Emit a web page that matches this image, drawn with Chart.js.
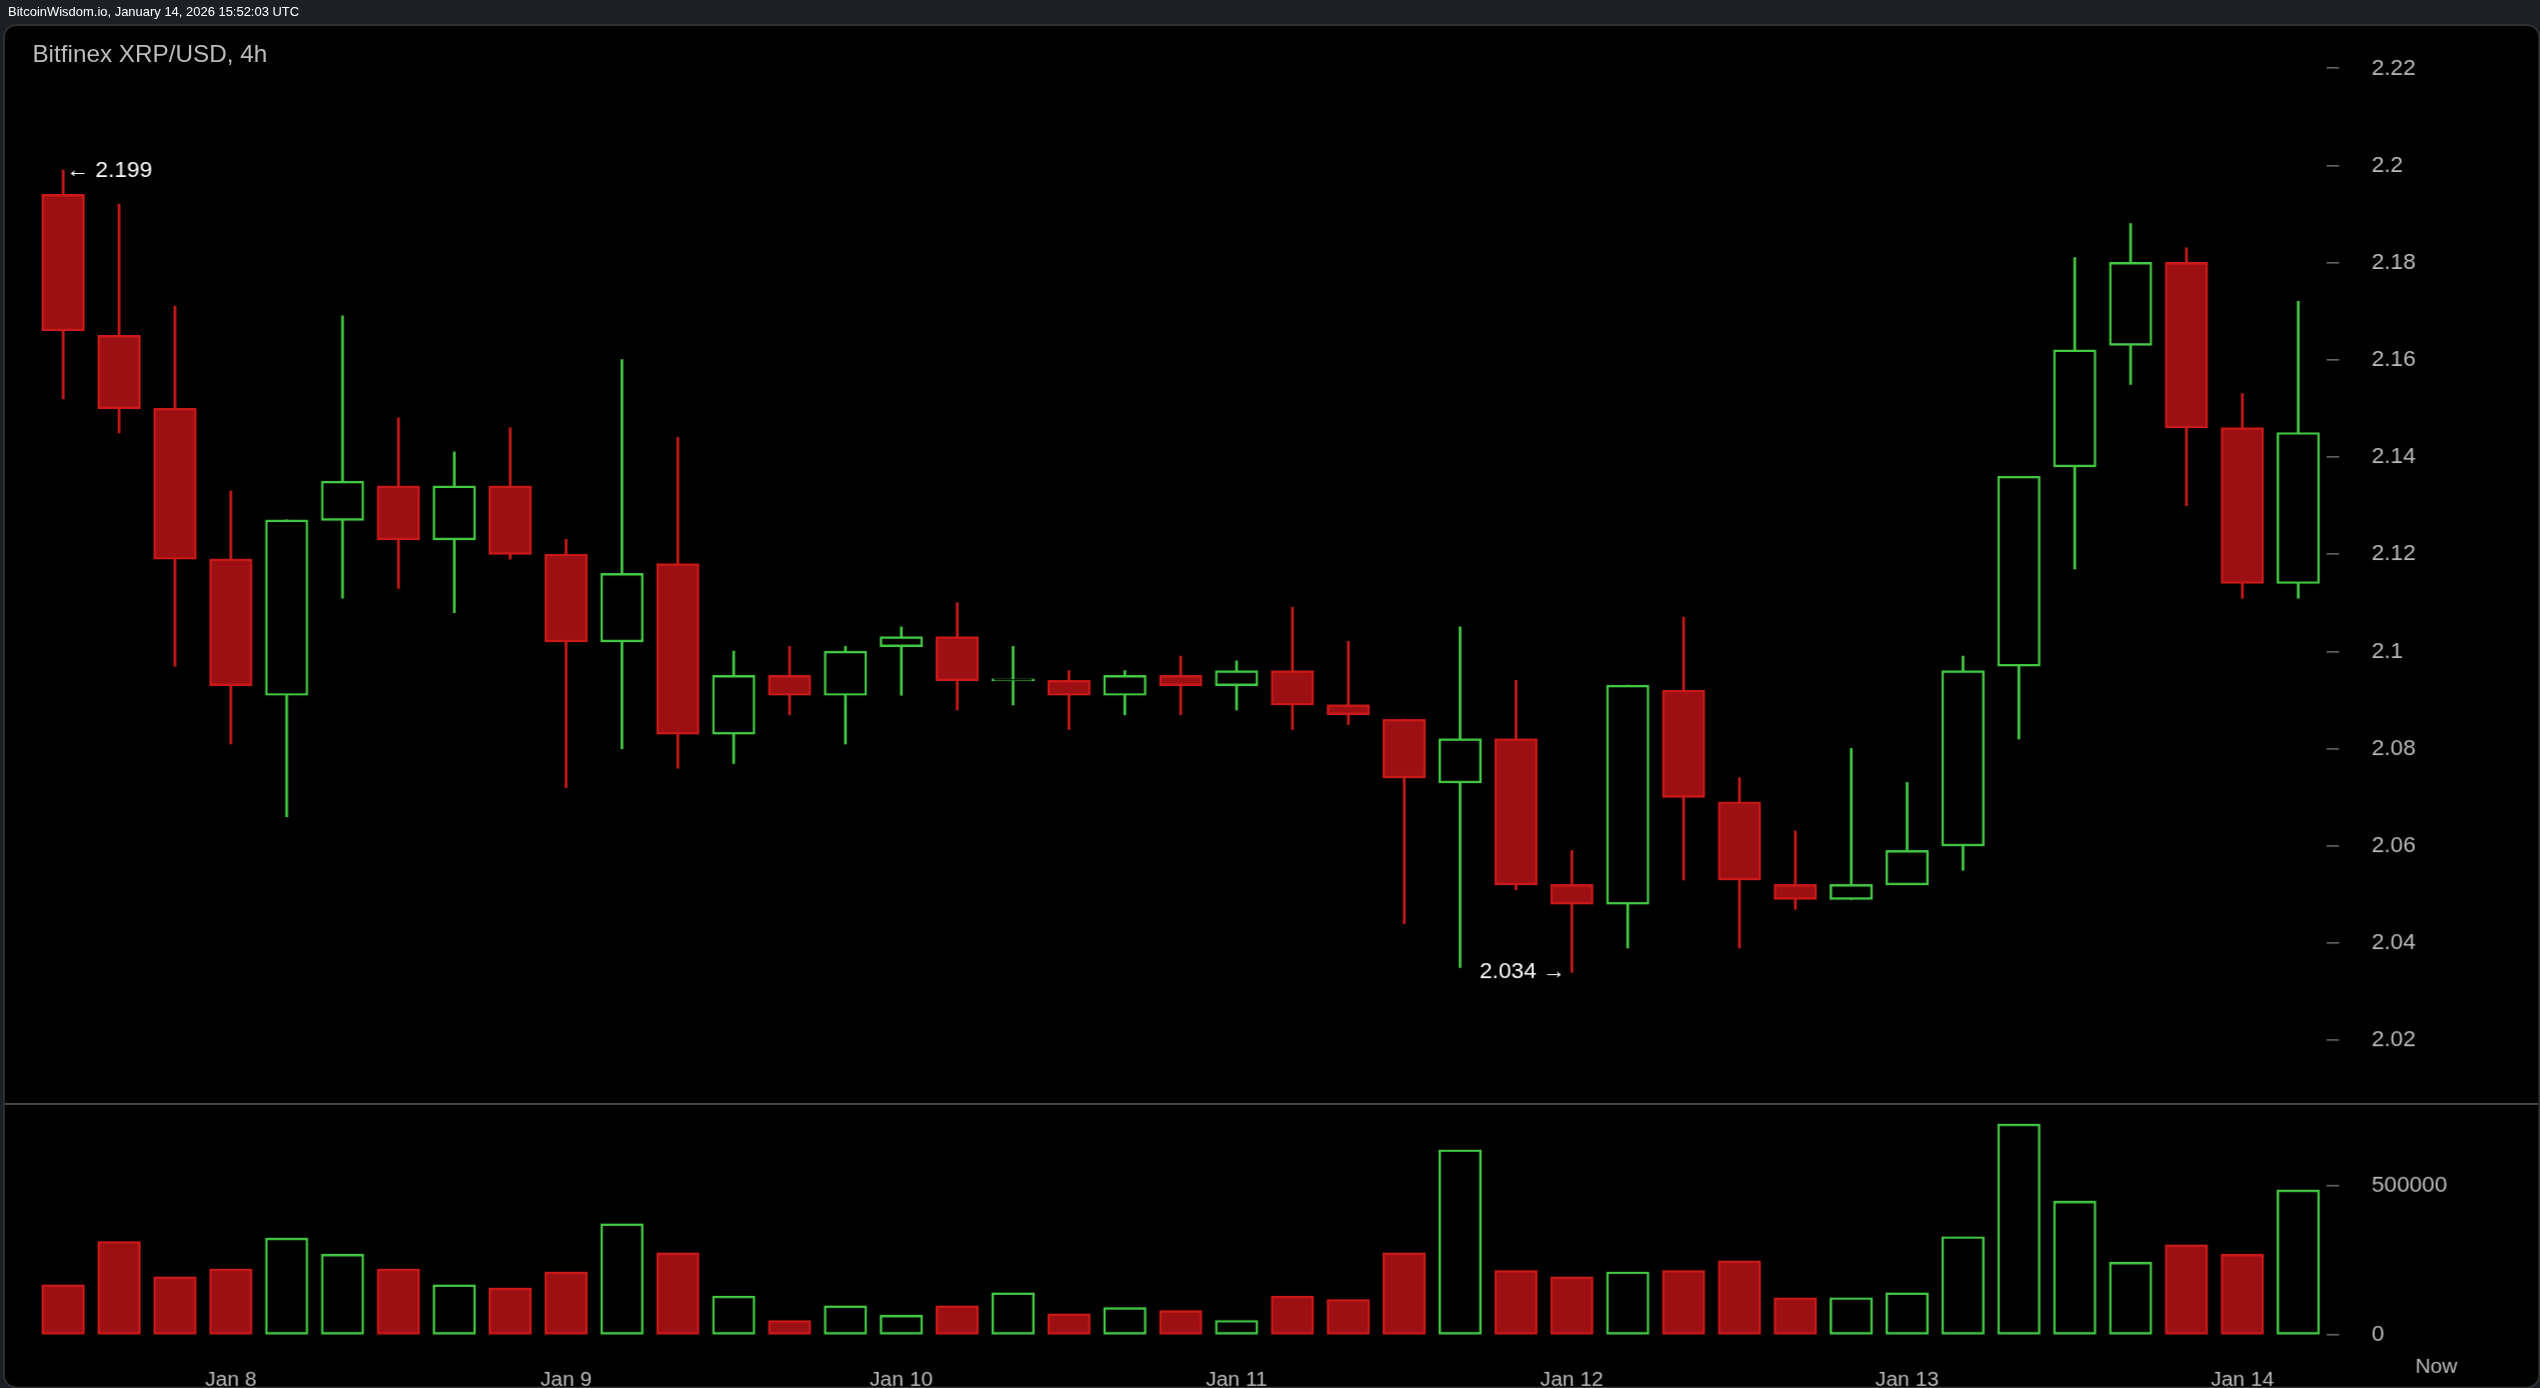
<!DOCTYPE html>
<html><head><meta charset="utf-8">
<script src="https://cdn.jsdelivr.net/npm/chart.js@4"></script>
<style>
html,body{margin:0;padding:0;background:#1c1f26;width:2540px;height:1388px;overflow:hidden;font-family:"Liberation Sans",Arial,sans-serif}
#wrap{position:absolute;left:0;top:0;width:1568px;height:857px;transform:scale(1.6199);transform-origin:0 0}
#hdr{position:absolute;left:5px;top:3px;font-size:8px;color:#fff}
#panel{position:absolute;left:2px;top:15px;width:1564px;height:840px;background:#000;border-radius:8px;border:1px solid #333;overflow:hidden}
#title{position:absolute;left:17px;top:8px;font-size:15px;color:#bbb}
#sep{position:absolute;left:0;top:665px;width:1564px;height:1px;background:#555}
#c1{position:absolute;left:-2px;top:0}
#c2{position:absolute;left:-2px;top:666px}
</style></head><body>
<div id="wrap">
<div id="hdr">BitcoinWisdom.io, January 14, 2026 15:52:03 UTC</div>
<div id="panel">
<canvas id="c1" width="1568" height="665"></canvas>
<canvas id="c2" width="1568" height="176"></canvas>
<div id="sep"></div>
<div id="title">Bitfinex XRP/USD, 4h</div>
</div>
</div>
<script>
const opens =[2.194,2.165,2.150,2.119,2.091,2.127,2.134,2.123,2.134,2.120,2.102,2.118,2.083,2.095,2.091,2.101,2.103,2.094,2.094,2.091,2.095,2.093,2.096,2.089,2.086,2.073,2.082,2.052,2.048,2.092,2.069,2.052,2.049,2.052,2.060,2.097,2.138,2.163,2.180,2.146,2.114];
const highs =[2.199,2.192,2.171,2.133,2.127,2.169,2.148,2.141,2.146,2.123,2.160,2.144,2.100,2.101,2.101,2.105,2.110,2.101,2.096,2.096,2.099,2.098,2.109,2.102,2.086,2.105,2.094,2.059,2.093,2.107,2.074,2.063,2.080,2.073,2.099,2.136,2.181,2.188,2.183,2.153,2.172];
const lows  =[2.152,2.145,2.097,2.081,2.066,2.111,2.113,2.108,2.119,2.072,2.080,2.076,2.077,2.087,2.081,2.091,2.088,2.089,2.084,2.087,2.087,2.088,2.084,2.085,2.044,2.035,2.051,2.034,2.039,2.053,2.039,2.047,2.049,2.052,2.055,2.082,2.117,2.155,2.130,2.111,2.111];
const closes=[2.166,2.150,2.119,2.093,2.127,2.135,2.123,2.134,2.120,2.102,2.116,2.083,2.095,2.091,2.100,2.103,2.094,2.0943,2.091,2.095,2.093,2.096,2.089,2.087,2.074,2.082,2.052,2.048,2.093,2.070,2.053,2.049,2.052,2.059,2.096,2.136,2.162,2.180,2.146,2.114,2.145];
const volumes=[167000,312000,194000,220000,323000,269000,220000,167000,156000,210000,371000,274000,129000,48000,97000,65000,97000,140000,70000,91000,81000,48000,129000,118000,274000,618000,215000,194000,210000,215000,247000,124000,124000,140000,328000,704000,446000,242000,301000,269000,484000];
const dayLabels={3:"Jan 8",9:"Jan 9",15:"Jan 10",21:"Jan 11",27:"Jan 12",33:"Jan 13",39:"Jan 14"};
const priceTicks=[2.02,2.04,2.06,2.08,2.1,2.12,2.14,2.16,2.18,2.2,2.22];
const volTicks=[0,500000];
const cats=opens.map((_,i)=>i);
const RED='#cc1a1a',REDF='#9c0f13',GRN='#44cc44';
const DPR=1.6199*(window.devicePixelRatio||1);
const col=i=>closes[i]>=opens[i]?GRN:RED;
const fill=i=>closes[i]>=opens[i]?'#000':REDF;
const yRight=(ticks,cb)=>({position:'right',bounds:'data',afterFit:s=>{s.width=133;s.paddingTop=0;s.paddingBottom=0},grid:{drawOnChartArea:false,color:'#666',tickLength:8,drawTicks:true},border:{display:false},
  afterBuildTicks:s=>{s.ticks=ticks.map(v=>({value:v}))},ticks:{color:'#bbb',font:{size:14,family:'Liberation Sans'},padding:20,callback:cb}});
const annot={id:'annot',afterDatasetsDraw(c){const x=c.scales.x,y=c.scales.y,ctx=c.ctx;ctx.save();ctx.fillStyle='#fff';ctx.font='14px "Liberation Sans"';ctx.textBaseline='middle';
 ctx.textAlign='left';ctx.fillText('← 2.199',x.getPixelForValue(0)+2,y.getPixelForValue(2.199));
 ctx.textAlign='right';ctx.fillText('2.034 →',x.getPixelForValue(27)-4,y.getPixelForValue(2.034));ctx.restore();}};
new Chart(document.getElementById('c1'),{type:'bar',plugins:[annot],data:{labels:cats,datasets:[
 {data:cats.map(i=>[lows[i],highs[i]]),backgroundColor:cats.map(col),barThickness:1,grouped:false,order:2},
 {data:cats.map(i=>[opens[i],closes[i]===opens[i]?closes[i]+0.0003:closes[i]]),backgroundColor:cats.map(fill),borderColor:cats.map(col),borderWidth:1.5,borderSkipped:false,barThickness:26,grouped:false,order:1}
]},options:{responsive:false,devicePixelRatio:DPR,animation:false,layout:{padding:{left:20.75,right:0,top:0,bottom:0}},plugins:{legend:{display:false},tooltip:{enabled:false}},
 scales:{x:{display:false},y:Object.assign(yRight(priceTicks,v=>String(+v.toFixed(2))),{min:2.007,max:2.2287})}}});
new Chart(document.getElementById('c2'),{type:'bar',data:{labels:cats,datasets:[
 {data:volumes,backgroundColor:cats.map(fill),borderColor:cats.map(col),borderWidth:1.5,borderSkipped:false,barThickness:26}
]},options:{responsive:false,devicePixelRatio:DPR,animation:false,layout:{padding:{left:20.75,right:0,top:0,bottom:0}},plugins:{legend:{display:false},tooltip:{enabled:false}},
 scales:{x:{afterFit:s=>{s.height=34},grid:{display:false},border:{display:false},ticks:{autoSkip:false,maxRotation:0,color:'#bbb',font:{size:13,family:'Liberation Sans'},padding:12,callback:(v,i)=>dayLabels[i]||''}},
 y:Object.assign(yRight(volTicks,v=>String(v)),{min:0,max:769000})}},
 plugins:[{id:'now',afterDraw(c){const ctx=c.ctx;ctx.save();ctx.fillStyle='#bbb';ctx.font='13px "Liberation Sans"';ctx.textAlign='center';ctx.textBaseline='middle';ctx.fillText('Now',1503,c.chartArea.bottom+20);ctx.restore();}}]});
</script></body></html>
